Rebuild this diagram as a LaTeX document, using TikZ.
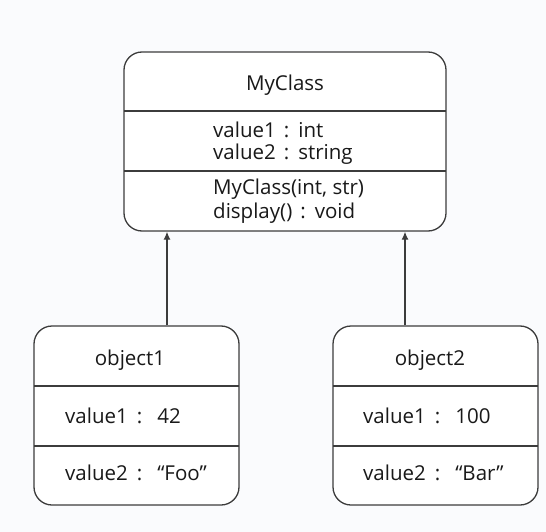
\documentclass[tikz,border=0pt]{standalone}
\usepackage{fontspec}
\setmainfont{Open Sans}
\usetikzlibrary{arrows.meta}
\definecolor{bg}{RGB}{250,251,253}
\definecolor{ln}{RGB}{60,60,60}
\definecolor{tx}{RGB}{25,25,25}
\begin{document}
\begin{tikzpicture}[x=1pt,y=-1pt,
  box/.style={draw=ln,line width=1.3pt,rounded corners=18pt,fill=white,inner sep=0pt},
  sep/.style={draw=ln,line width=1.1pt},
  lbl/.style={text=tx,font=\fontsize{20.5}{24}\selectfont,inner sep=0pt},
  inh/.style={draw=ln,line width=1.3pt,-{Latex[length=8pt,width=7pt]}}]
\fill[bg] (0,0) rectangle (546,532);
\useasboundingbox (0,0) rectangle (546,532);
% class
\node[box,minimum width=322pt,minimum height=179pt] (cls) at (285,141.5) {};
\draw[sep] (124,111) -- (446,111);
\draw[sep] (124,171) -- (446,171);
\node[lbl] (cn) at (285,85) {MyClass};
\node[lbl,anchor=west] (a1) at (213,130) {value1\hspace{8pt}:\hspace{9pt}int};
\node[lbl,anchor=west] (a2) at (213,154) {value2\hspace{8pt}:\hspace{9pt}string};
\node[lbl,anchor=west] (m1) at (213,189) {MyClass(int, str)};
\node[lbl,anchor=west] (m2) at (213,213) {display()\hspace{8pt}:\hspace{9pt}void};
% object1
\node[box,minimum width=205pt,minimum height=179pt] (o1) at (136.5,415.5) {};
\draw[sep] (34,386) -- (239,386);
\draw[sep] (34,446) -- (239,446);
\node[lbl] (o1n) at (130,360) {object1};
\node[lbl,anchor=west] (o1a) at (65,416) {value1\hspace{9pt}:\hspace{15pt}42};
\node[lbl,anchor=west] (o1b) at (65,473) {value2\hspace{9pt}:\hspace{15pt}“Foo”};
% object2
\node[box,minimum width=205pt,minimum height=179pt] (o2) at (435.5,415.5) {};
\draw[sep] (333,386) -- (538,386);
\draw[sep] (333,446) -- (538,446);
\node[lbl] (o2n) at (430,360) {object2};
\node[lbl,anchor=west] (o2a) at (363,416) {value1\hspace{9pt}:\hspace{15pt}100};
\node[lbl,anchor=west] (o2b) at (363,473) {value2\hspace{9pt}:\hspace{15pt}“Bar”};
% arrows
\draw[inh] ([xshift=30.5pt]o1.north) -- ([xshift=30.5pt]o1.north |- cls.south);
\draw[inh] ([xshift=-30.5pt]o2.north) -- ([xshift=-30.5pt]o2.north |- cls.south);
\end{tikzpicture}
\end{document}
